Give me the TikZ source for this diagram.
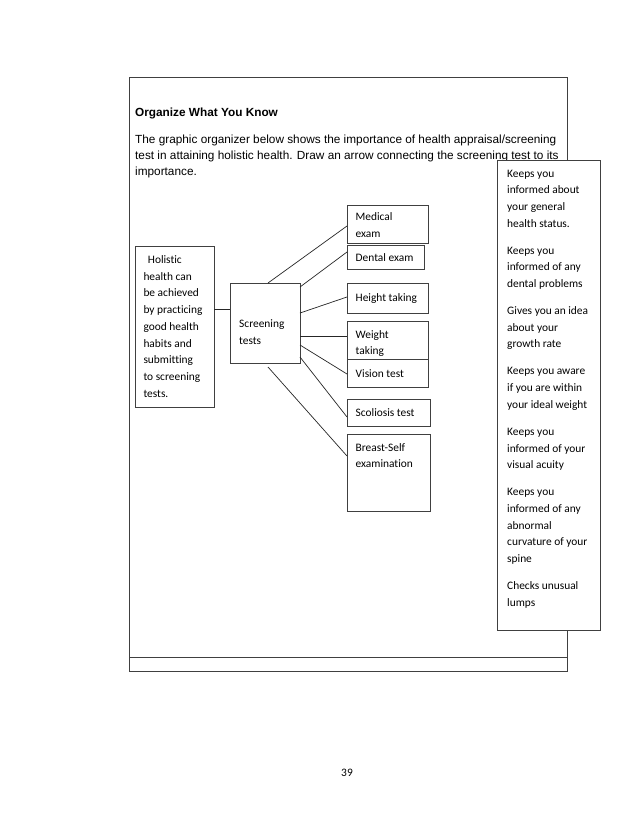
\documentclass[tikz,border=0pt]{standalone}
\usepackage{fontspec}
\setmainfont{Carlito}[Ligatures=NoCommon]
\newfontfamily\arialfont{Liberation Sans}
\usetikzlibrary{calc}
\begin{document}
\begin{tikzpicture}[x=1pt,y=-1pt,
  box/.style={draw=black!75, line width=0.8pt, fill=white, inner sep=0pt, outer sep=0pt, anchor=north west},
  txt/.style={inner sep=0pt, anchor=base west, align=left, font=\fontsize{11.4}{16.7}\selectfont},
  atxt/.style={inner sep=0pt, anchor=base west, align=left, font=\arialfont\fontsize{11.8}{16}\selectfont},
  conn/.style={draw=black!85, line width=0.7pt}]
\useasboundingbox (0,0) rectangle (638,831);
\fill[white] (0,0) rectangle (638,831);
% outer frame
\node[box] (frame) at (129,77) [minimum width=438pt, minimum height=594pt] {};
\coordinate (fl) at (129,657);
\draw[draw=black!75, line width=0.8pt] (fl) -- (fl -| frame.east);
% title and instructions (multi-line nodes: base = last line)
\node[atxt, font=\arialfont\bfseries\fontsize{11.8}{16}\selectfont] (title) at (135,116) {Organize What You Know};
\node[atxt] (intro) at (135,175) {The graphic organizer below shows the importance of health appraisal/screening\\test in attaining holistic health. Draw an arrow connecting the screening test to its\\importance.};
% importance box
\node[box, minimum width=103pt, minimum height=470pt] (imp) at (497,160) {};
\node[txt] (imptext) at (507,606.2) {Keeps you\\informed about\\your general\\health status.\\[10.3pt]
Keeps you\\informed of any\\dental problems\\[10.3pt]
Gives you an idea\\about your\\growth rate\\[10.3pt]
Keeps you aware\\if you are within\\your ideal weight\\[10.3pt]
Keeps you\\informed of your\\visual acuity\\[10.3pt]
Keeps you\\informed of any\\abnormal\\curvature of your\\spine\\[10.3pt]
Checks unusual\\lumps};
% holistic box
\node[box, minimum width=79pt, minimum height=161pt] (hol) at (135,246) {};
\node[txt] (holtext) at (143.3,397.1) {\hspace{4.4pt}Holistic\\health can\\be achieved\\by practicing\\good health\\habits and\\submitting\\to screening\\tests.};
% screening box
\node[box, minimum width=70pt, minimum height=80pt] (scr) at (230,283) {};
\node[txt] (scrtext) at (239,344.2) {Screening\\tests};
% test boxes
\node[box, minimum width=77pt, minimum height=24pt] (den) at (347,245) {};
\node[box, minimum width=81pt, minimum height=38pt] (med) at (347,205) {};
\node[box, minimum width=81pt, minimum height=30pt] (hei) at (347,283) {};
\node[box, minimum width=81pt, minimum height=38pt] (wei) at (347,321) {};
\node[box, minimum width=81pt, minimum height=28pt] (vis) at (347,359) {};
\node[box, minimum width=83pt, minimum height=27pt] (sco) at (347,399) {};
\node[box, minimum width=83pt, minimum height=77pt] (bre) at (347,434) {};
\node[txt] (medtext) at (355.5,237.2) {Medical\\exam};
\node[txt] (dentext) at (355.5,261.5) {Dental exam};
\node[txt] (heitext) at (355.5,301) {Height taking};
\node[txt] (weitext) at (355.5,354.7) {Weight\\taking};
\node[txt] (vistext) at (355.5,377) {Vision test};
\node[txt] (scotext) at (355.5,416) {Scoliosis test};
\node[txt] (bretext) at (355.5,467.7) {Breast-Self\\examination};
% connectors
\draw[conn] ($(hol.north east)+(0,63)$) -- ($(scr.north west)+(0,26)$);
\draw[conn] ($(scr.north west)+(38,0)$) -- ($(med.north west)+(0,21)$);
\draw[conn] ($(scr.north east)+(0,4)$) -- ($(den.north west)+(0,7)$);
\draw[conn] ($(scr.north east)+(0,30)$) -- ($(hei.north west)+(0,14)$);
\draw[conn] ($(scr.north east)+(0,53)$) -- ($(wei.north west)+(0,15)$);
\draw[conn] ($(scr.north east)+(0,62)$) -- ($(vis.north west)+(0,15)$);
\draw[conn] ($(scr.north east)+(0,74)$) -- ($(sco.north west)+(0,18)$);
\draw[conn] ($(scr.south west)+(38,4)$) -- ($(bre.north west)+(0,22)$);
% page number
\node[txt, anchor=base] (page) at (347,776) {39};
\end{tikzpicture}
\end{document}
